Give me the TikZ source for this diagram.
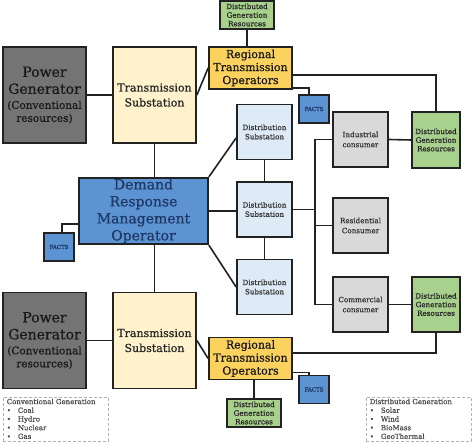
\documentclass[tikz,border=0pt]{standalone}
\usepackage{fontspec}
\setmainfont{DejaVu Serif}[FakeBold=0.7]
\usepackage{xcolor}
\usetikzlibrary{calc, positioning}

\definecolor{lineC}{HTML}{222222}
\definecolor{genFill}{HTML}{747474}
\definecolor{tsFill}{HTML}{FFF2CC}
\definecolor{rtoFill}{HTML}{FBD25E}
\definecolor{dgrFill}{HTML}{A9D18E}
\definecolor{drmoFill}{HTML}{5B93D3}
\definecolor{dsFill}{HTML}{DEEBF7}
\definecolor{conFill}{HTML}{D9D9D9}
\definecolor{navyTxt}{HTML}{1F3864}
\definecolor{legC}{HTML}{4D4D4D}

\begin{document}
\begin{tikzpicture}[x=1pt, y=-1pt, line width=1.6pt, draw=lineC,
    box/.style={draw=lineC, line width=1.8pt, inner sep=1pt, align=center},
    genbox/.style={box, fill=genFill, text=black!90, minimum width=83pt, minimum height=96pt,
        font=\fontsize{14}{17}\selectfont},
    transbox/.style={box, fill=tsFill, text=black!85, minimum width=83pt, minimum height=96pt,
        font=\fontsize{11}{15}\selectfont},
    rtobox/.style={box, fill=rtoFill, text=black!90, minimum width=83pt, minimum height=42pt,
        font=\fontsize{11}{13}\selectfont},
    drmobox/.style={box, fill=drmoFill, text=navyTxt, minimum width=129pt, minimum height=64pt,
        font=\fontsize{14}{17}\selectfont},
    dsbox/.style={box, fill=dsFill, text=black!80, minimum width=55pt, minimum height=55pt,
        font=\fontsize{7.2}{9.3}\selectfont},
    conbox/.style={box, fill=conFill, text=black!80, minimum width=55pt, minimum height=55pt,
        font=\fontsize{7.2}{10}\selectfont},
    dgrbox/.style={box, fill=dgrFill, text=black!85, font=\fontsize{7.2}{8.6}\selectfont},
    factsbox/.style={box, fill=drmoFill, text=navyTxt, minimum width=30pt, minimum height=28pt,
        font=\fontsize{5.5}{6}\selectfont},
    legendbox/.style={draw=gray!60, line width=0.6pt, densely dashed, minimum width=105pt,
        minimum height=44pt},
    legendtxt/.style={align=left, inner sep=0pt, text=legC, font=\fontsize{7}{8.7}\selectfont}]

    \useasboundingbox (0,0) rectangle (474,443);

    % =================================================================
    % 1. KHOI BEN TRAI (NGUON PHAT VA TRAM TRUYEN TAI)
    % =================================================================
    \node[genbox] (pgTop) at (44.5,95) {Power\\Generator\\[-2pt]
        \fontsize{10.5}{12}\selectfont(Conventional\\[-4pt]\fontsize{10.5}{12}\selectfont resources)};
    \node[transbox] (tsTop) at (154.5,95) {Transmission\\Substation};

    \node[genbox] (pgBot) at (44.5,340.5) {Power\\Generator\\[-2pt]
        \fontsize{10.5}{12}\selectfont(Conventional\\[-4pt]\fontsize{10.5}{12}\selectfont resources)};
    \node[transbox] (tsBot) at (154.5,340.5) {Transmission\\Substation};

    \node[drmobox] (drmo) at (143.5,211) {Demand\\Response\\Management\\Operator};
    \node[factsbox] (factsL) at (59,247) {FACTS};

    % =================================================================
    % 2. KHOI VAN HANH TRUYEN TAI KHU VUC
    % =================================================================
    \node[rtobox] (rtoTop) at (250.5,68) {Regional\\Transmission\\Operators};
    \node[dgrbox, minimum width=54pt, minimum height=28pt] (dgrTop) at (247,15)
        {Distributed\\Generation\\Resources};
    \node[factsbox] (factsTop) at (314,109) {FACTS};

    \node[rtobox] (rtoBot) at (250.5,358.5) {Regional\\Transmission\\Operators};
    \node[dgrbox, minimum width=54pt, minimum height=28pt] (dgrBot) at (254,413)
        {Distributed\\Generation\\Resources};
    \node[factsbox] (factsBot) at (314,389.5) {FACTS};

    % =================================================================
    % 3. TRAM PHAN PHOI VA HO TIEU THU
    % =================================================================
    \node[dsbox] (ds1) at (264.5,132) {Distribution\\Substation};
    \node[dsbox] (ds2) at (264.5,209.5) {Distribution\\Substation};
    \node[dsbox] (ds3) at (264.5,287) {Distribution\\Substation};

    \node[conbox] (ind) at (360.5,139.5) {Industrial\\consumer};
    \node[conbox] (res) at (360.5,225.5) {Residential\\Consumer};
    \node[conbox] (com) at (360.5,304.5) {Commercial\\consumer};

    \node[dgrbox, minimum width=48pt, minimum height=56pt] (dgrR1) at (436,140)
        {Distributed\\Generation\\Resources};
    \node[dgrbox, minimum width=48pt, minimum height=55pt] (dgrR2) at (436,304.5)
        {Distributed\\Generation\\Resources};

    % =================================================================
    % 4. DUONG NOI
    % =================================================================
    \draw (pgTop.east) -- (tsTop.west);
    \draw (tsTop.east) -- (rtoTop.west);
    \draw (dgrTop.south) -- (dgrTop.south |- rtoTop.north);
    \draw ($(rtoTop.east)+(0,7)$) -| (dgrR1.north);
    \draw ($(rtoTop.south east)+(0,-2)$) -| ($(factsTop.north)+(-5,0)$);
    \draw (tsTop.south) -- (tsTop.south |- drmo.north);

    \draw (drmo.north east) -- ($(ds1.west)+(0,6)$);
    \draw (drmo.east) -- (drmo.east -| ds2.west);
    \draw (drmo.south east) -- (ds3.west);
    \draw ($(drmo.west)+(0,13)$) -| ($(factsL.north)+(3,0)$);
    \draw (tsBot.north) -- (tsBot.north |- drmo.south);

    \draw (ds1.south) -- (ds2.north);
    \draw (ds2.south) -- (ds3.north);

    % Thanh cai noi toi cac ho tieu thu
    \coordinate (busTop) at ($(ind.west)+(-17,0)$);
    \coordinate (busBot) at (busTop |- com.west);
    \draw (ind.west) -- (busTop) -- (busBot) -- (com.west);
    \draw (res.west) -- (res.west -| busTop);
    \draw (ds2.east) -- (ds2.east -| busTop);

    \draw (ind.east) -- (dgrR1.west);
    \draw (com.east) -- (dgrR2.west);

    \draw (pgBot.east) -- (tsBot.west);
    \draw (tsBot.east) -- (rtoBot.west);
    \draw ($(rtoBot.east)+(0,-5.5)$) -| (dgrR2.south);
    \draw ($(rtoBot.south east)+(0,-8)$) -| ($(factsBot.north)+(-5,0)$);
    \draw (dgrBot.north) -- (dgrBot.north |- rtoBot.south);

    % =================================================================
    % 5. CHU THICH
    % =================================================================
    \node[legendbox, anchor=north west] (legConv) at (3,397) {};
    \node[legendtxt, anchor=north west] (legConvTxt) at (6,398)
        {Conventional Generation\\
         \textbullet\hspace{7pt}Coal\\
         \textbullet\hspace{7pt}Hydro\\
         \textbullet\hspace{7pt}Nuclear\\
         \textbullet\hspace{7pt}Gas};

    \node[legendbox, anchor=north west] (legDist) at (366,397) {};
    \node[legendtxt, anchor=north west] (legDistTxt) at (369,398)
        {Distributed Generation\\
         \textbullet\hspace{7pt}Solar\\
         \textbullet\hspace{7pt}Wind\\
         \textbullet\hspace{7pt}BioMass\\
         \textbullet\hspace{7pt}GeoThermal};

\end{tikzpicture}
\end{document}
